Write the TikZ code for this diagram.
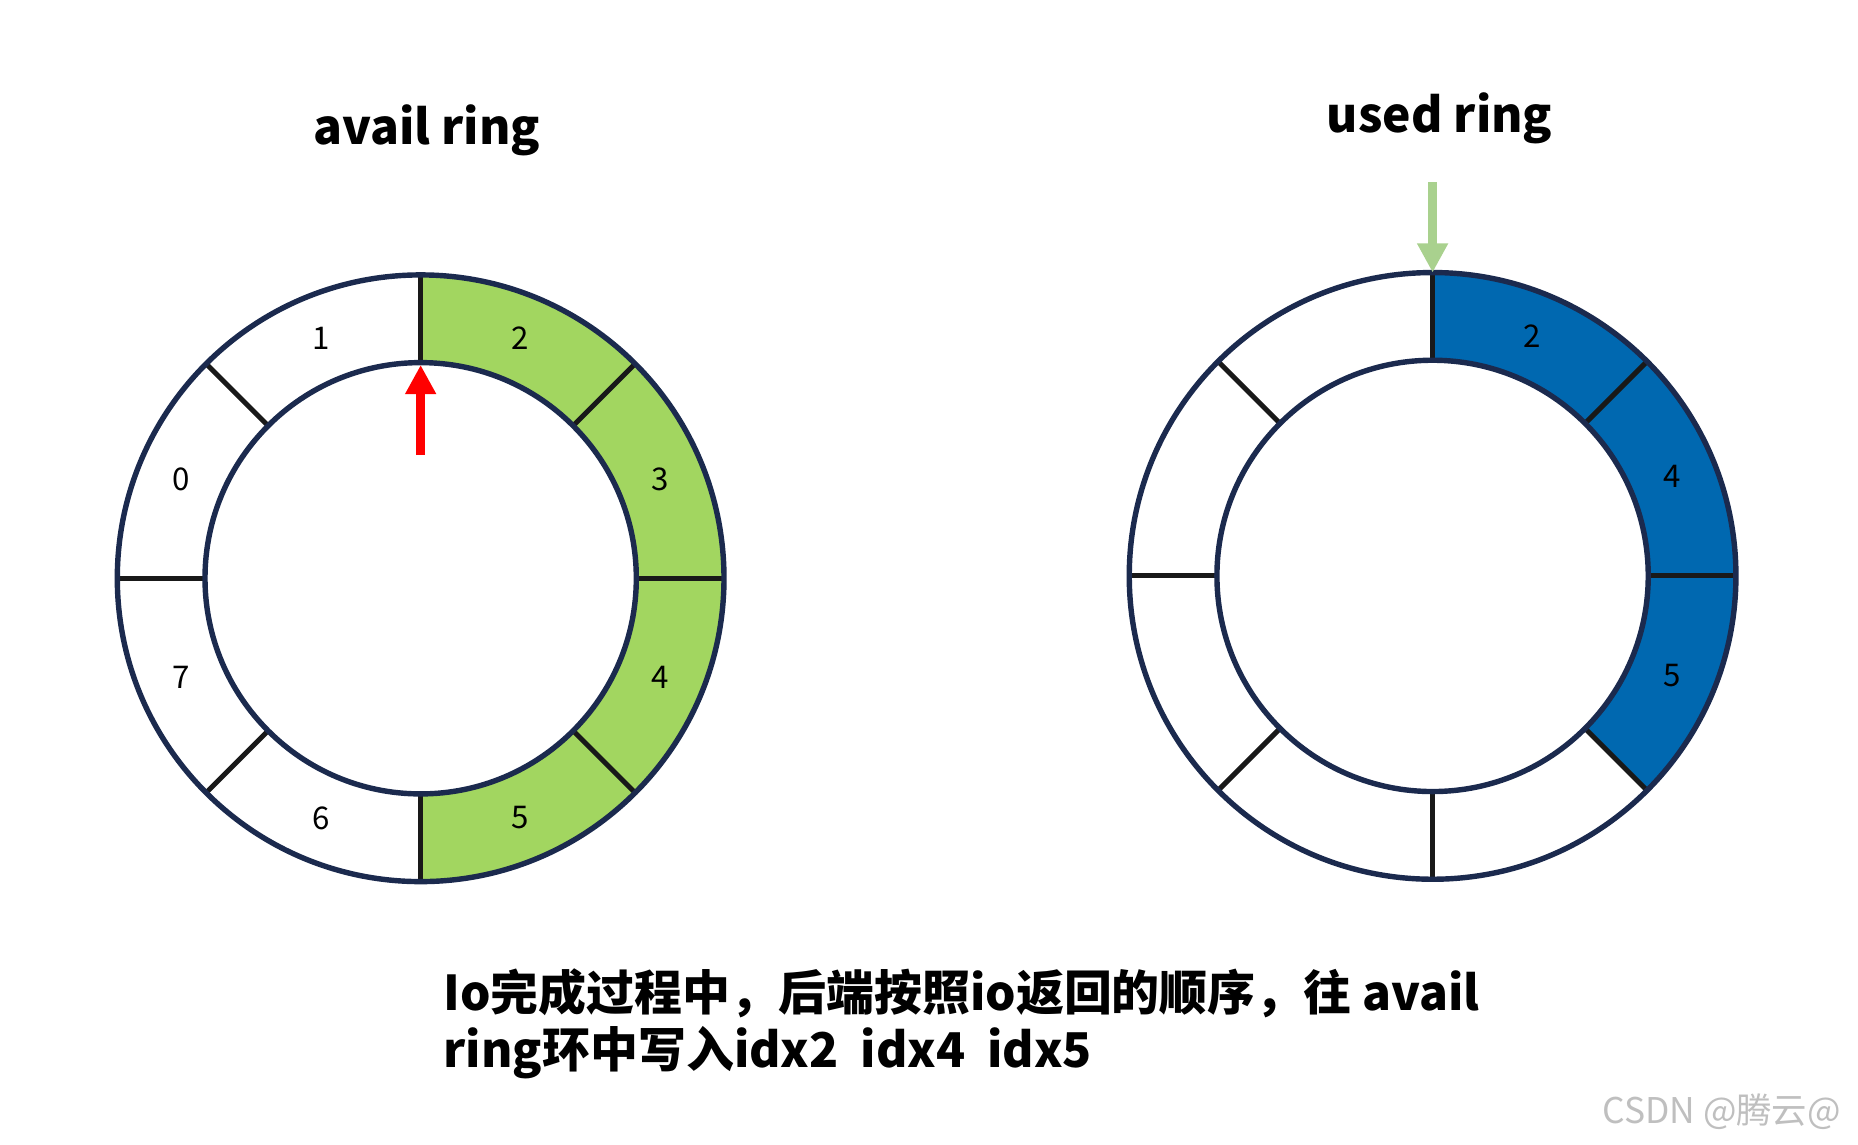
\documentclass[tikz,border=0pt]{standalone}
\usepackage{fontspec}
\setmainfont{Noto Sans CJK SC}
\usetikzlibrary{arrows.meta,calc}
\definecolor{ringc}{HTML}{1B2A4E}
\definecolor{gfill}{HTML}{A2D660}
\definecolor{bfill}{HTML}{0068B0}
\definecolor{garrow}{HTML}{A9D18E}
\tikzset{ringline/.style={draw=ringc,line width=1.3pt},
divline/.style={draw=black!90,line width=1.2pt},
lab/.style={font=\fontsize{7.5}{9}\selectfont},
title/.style={font=\fontsize{11.5}{14}\selectfont\bfseries}}
\begin{document}
\begin{tikzpicture}[x=0.01cm,y=-0.01cm]
\useasboundingbox (0,0) rectangle (1568,966);
% left ring
\coordinate (L) at (355,488);
\fill[gfill] ($(L)+(90:256)$) arc[start angle=90,end angle=-90,radius=256] -- ($(L)+(-90:182)$) arc[start angle=-90,end angle=90,radius=182] -- cycle;
\foreach \a in {90,45,0,-45,-90,-135,180,135} \draw[divline] ($(L)+(\a:182)$) -- ($(L)+(\a:256)$);
\draw[ringline] (L) circle[radius=256]; \draw[ringline] (L) circle[radius=182];
\foreach \a/\t in {112.5/1,67.5/2,22.5/3,-22.5/4,-67.5/5,-112.5/6,-157.5/7,157.5/0}
  \node[lab] (l\t) at ($(L)+(-\a:219)$) {\t};
% right ring
\coordinate (R) at (1209,486);
\fill[bfill] ($(R)+(-90:256)$) arc[start angle=-90,end angle=45,radius=256] -- ($(R)+(45:182)$) arc[start angle=45,end angle=-90,radius=182] -- cycle;
\foreach \a in {90,45,0,-45,-90,-135,180,135} \draw[divline] ($(R)+(\a:182)$) -- ($(R)+(\a:256)$);
\draw[ringline] (R) circle[radius=256]; \draw[ringline] (R) circle[radius=182];
\foreach \a/\t in {67.5/2,22.5/4,-22.5/5}
  \node[lab] (r\t) at ($(R)+(-\a:219)$) {\t};
% arrows
\coordinate (ra1) at (355,384); \coordinate (ra2) at (355,308);
\draw[red,line width=2.2pt,-{Triangle[length=7pt,width=7pt]}] (ra1) -- (ra2);
\coordinate (ga1) at (1209,154); \coordinate (ga2) at (1209,230);
\draw[garrow,line width=2.2pt,-{Triangle[length=7pt,width=7pt]}] (ga1) -- (ga2);
% texts
\node[title] (t1) at (360,110) {avail ring};
\node[title] (t2) at (1215,100) {used ring};
\node[title,anchor=west,align=left,font=\fontsize{11.5}{13.7}\selectfont\bfseries] (t3) at (362,864) {Io完成过程中，后端按照io返回的顺序，往 avail\\ring环中写入idx2\ \ idx4\ \ idx5};
\node[anchor=east,text=black!25,font=\fontsize{8.5}{10}\selectfont] (wm) at (1566,938) {CSDN @腾云@};
\end{tikzpicture}
\end{document}
